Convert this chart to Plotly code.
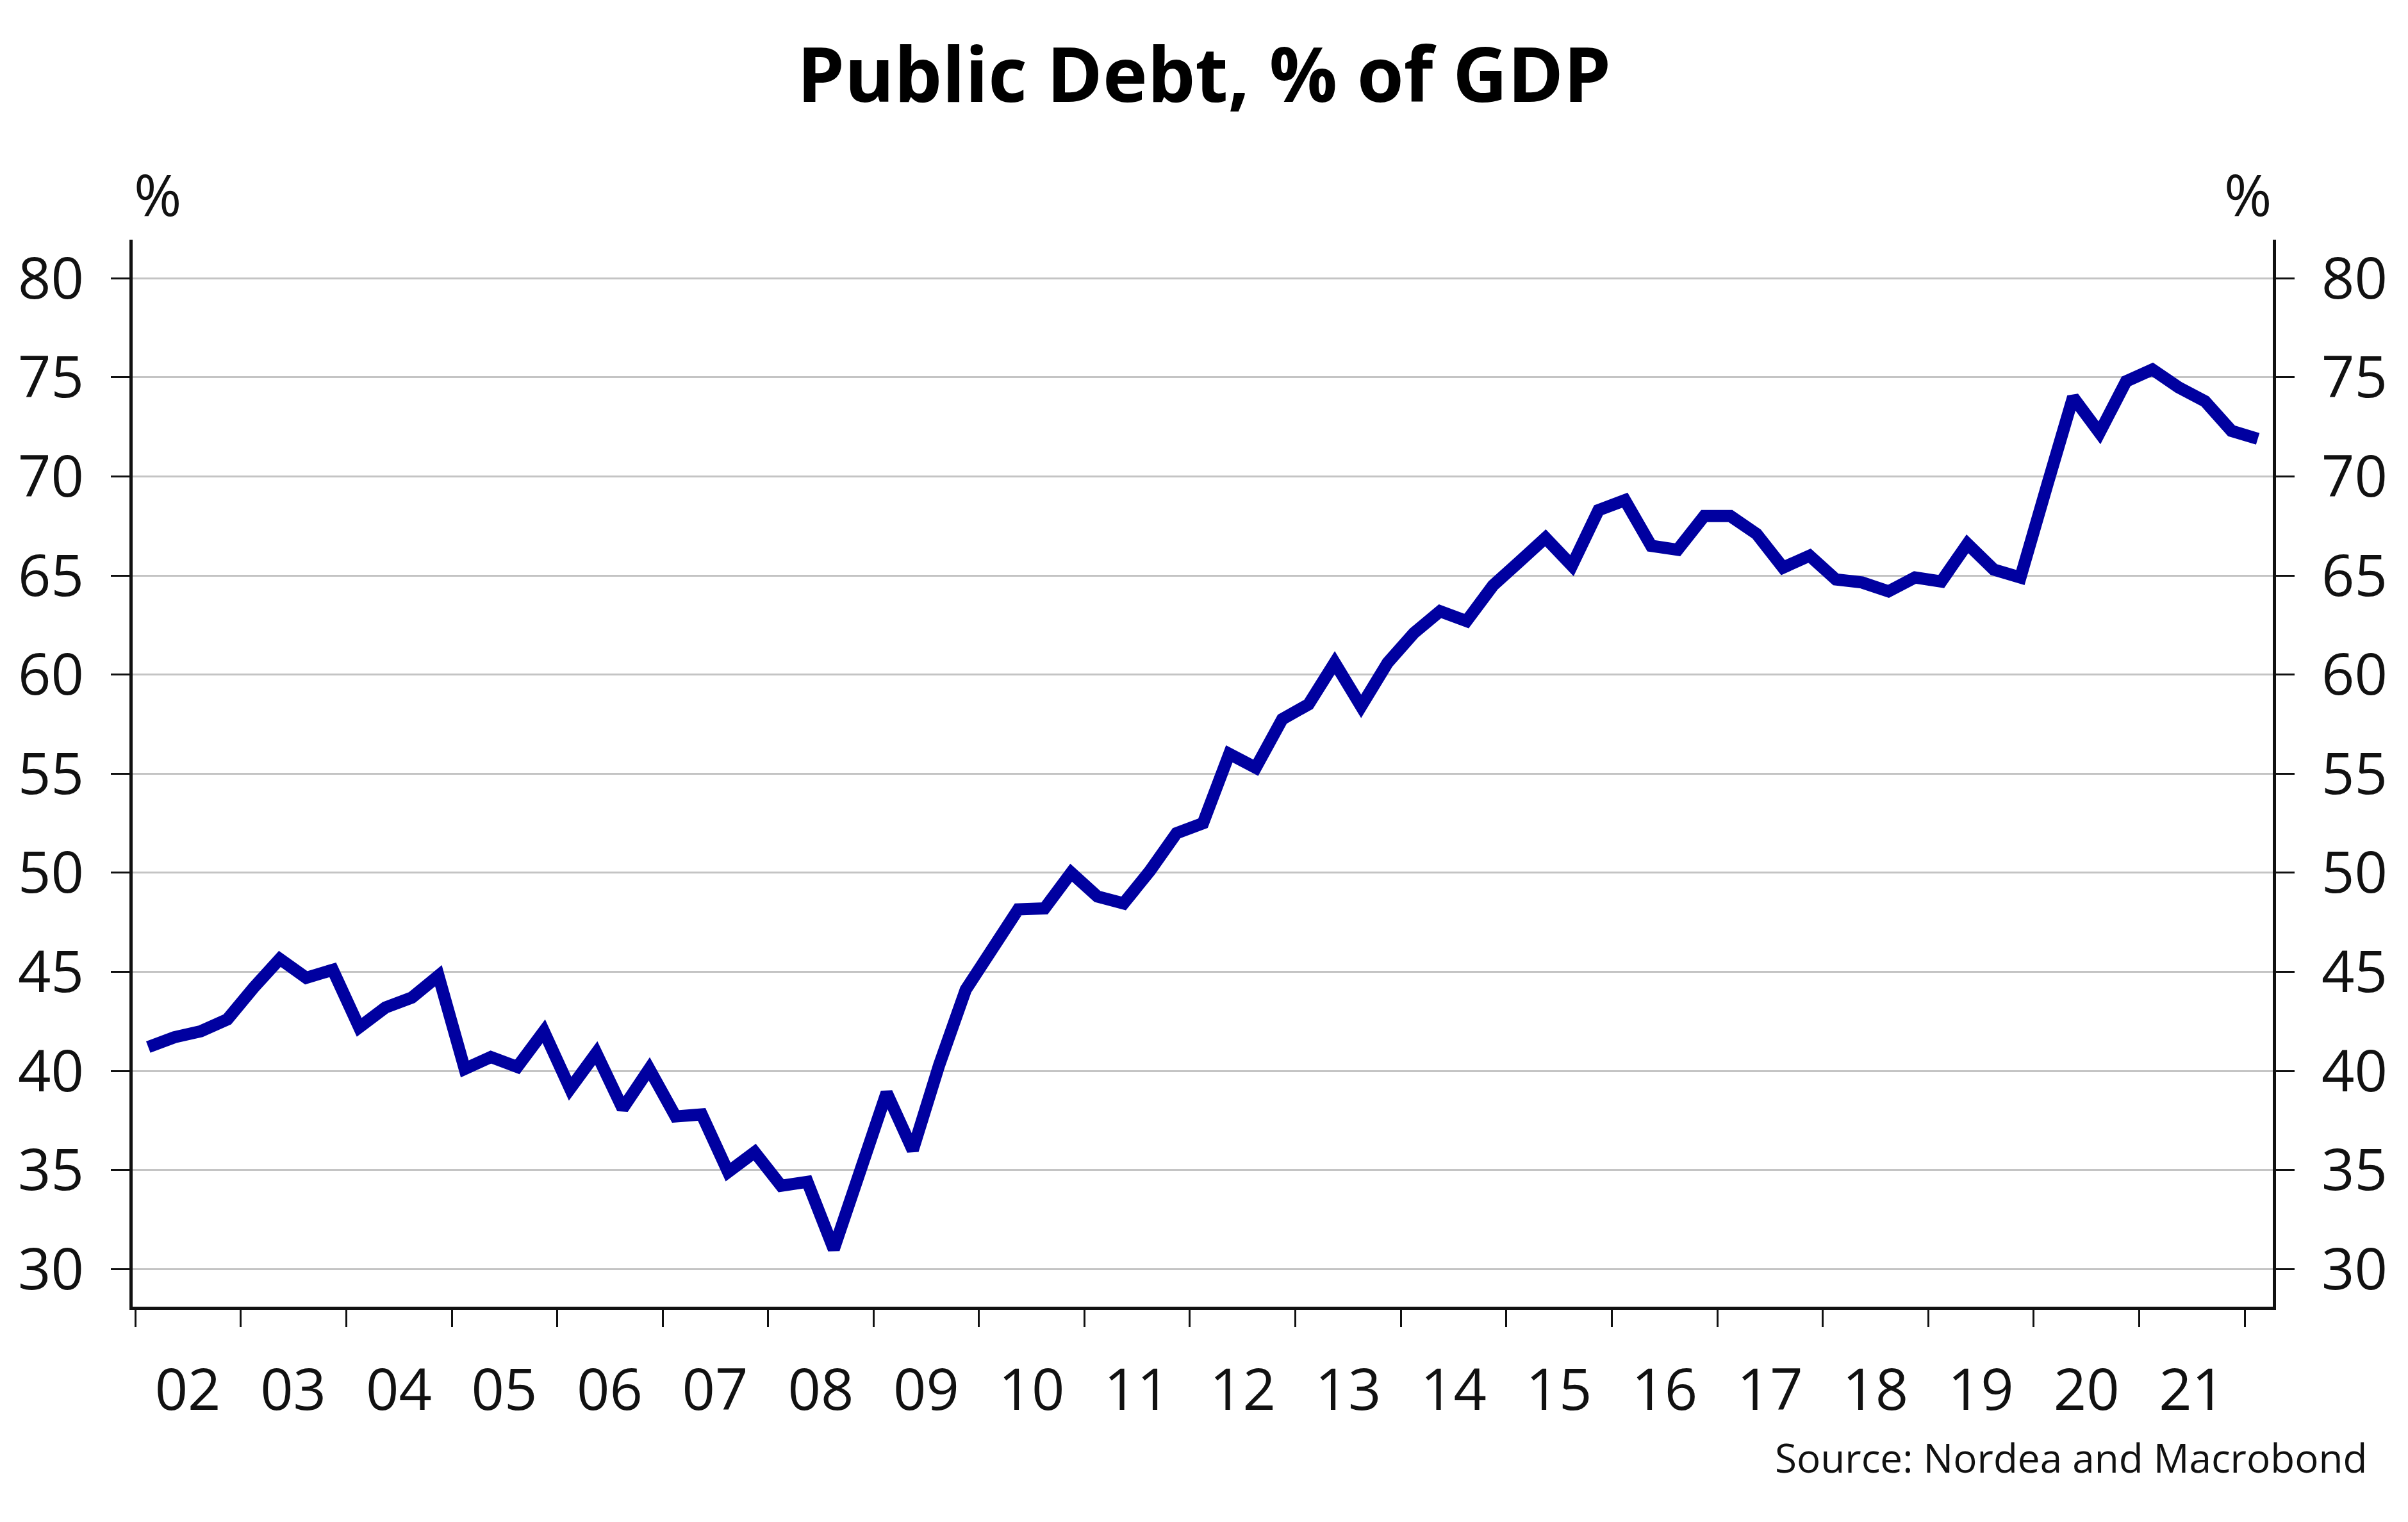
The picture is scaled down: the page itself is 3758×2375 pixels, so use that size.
import pandas as pd
import plotly.graph_objects as go

# ---- data ----
quarters = pd.period_range("2002Q1", "2022Q1", freq="Q")
debt_pct = [
    41.2, 41.7, 42.0, 42.6, 44.2, 45.65, 44.7, 45.1,
    42.2, 43.2, 43.7, 44.8, 40.1, 40.7, 40.2, 42.0,
    39.1, 40.9, 38.1, 40.1, 37.7, 37.8, 34.9, 35.9,
    34.2, 34.4, 31.0, 34.8, 38.9, 36.0, 40.3, 44.1,
    46.1, 48.15, 48.2, 50.0, 48.8, 48.45, 50.1, 52.0,
    52.5, 56.0, 55.3, 57.75, 58.5, 60.6, 58.4, 60.6,
    62.1, 63.2, 62.7, 64.5, 65.7, 66.9, 65.5, 68.3,
    68.8, 66.5, 66.3, 68.0, 68.0, 67.1, 65.4, 66.0,
    64.8, 64.65, 64.2, 64.9, 64.7, 66.6, 65.3, 64.9,
    69.5, 74.0, 72.2, 74.8, 75.4, 74.5, 73.8, 72.3,
    71.9,
]
years = list(range(2002, 2022))
year_labels = [f"{y % 100:02d}" for y in years]
y_ticks = [30, 35, 40, 45, 50, 55, 60, 65, 70, 75, 80]

title_text = "Public Debt, % of GDP"
source_text = "Source: Nordea and Macrobond"

# mid-quarter dates
x_dates = [p.start_time + (p.end_time - p.start_time) / 2 for p in quarters]

LINE_COLOR = "#0000A0"
FONT = "Open Sans"
AX_COLOR = "#111111"
TICK_SIZE = 90

fig = go.Figure()
fig.add_trace(go.Scatter(
    x=x_dates, y=debt_pct, mode="lines",
    line=dict(color=LINE_COLOR, width=19),
    showlegend=False, hoverinfo="skip",
))
# invisible copy on right axis so it renders
fig.add_trace(go.Scatter(
    x=x_dates, y=debt_pct, mode="lines", yaxis="y2",
    line=dict(color="rgba(0,0,0,0)", width=1),
    showlegend=False, hoverinfo="skip",
))

yr = [28.1, 81.95]
xr = ["2001-12-23", "2022-04-08"]

axis_common_y = dict(
    range=yr, tickvals=y_ticks, ticktext=[str(v) for v in y_ticks],
    ticks="outside", ticklen=29, tickwidth=3, tickcolor=AX_COLOR,
    showline=True, linecolor=AX_COLOR, linewidth=5,
    tickfont=dict(family=FONT, size=TICK_SIZE, color="#111111"),
    ticklabelstandoff=24, zeroline=False,
)

fig.update_layout(
    width=3758, height=2375,
    paper_bgcolor="white", plot_bgcolor="white",
    margin=dict(l=207, r=211, t=374, b=336),
    title=dict(
        text=f"<b>{title_text}</b>", x=0.5, xanchor="center",
        yref="container", y=1 - 118 / 2375, yanchor="middle",
        font=dict(family=FONT, size=118, color="black"),
    ),
    xaxis=dict(
        type="date", range=xr,
        tickvals=[f"{y}-07-02" for y in years], ticktext=year_labels,
        ticks="", ticklabelstandoff=48,
        tickfont=dict(family=FONT, size=TICK_SIZE, color="#111111"),
        showline=True, linecolor=AX_COLOR, linewidth=5,
        showgrid=False, zeroline=False,
        minor=dict(
            tickvals=[f"{y}-01-01" for y in years + [2022]],
            ticks="outside", ticklen=27, tickwidth=3, tickcolor=AX_COLOR,
            showgrid=False,
        ),
    ),
    yaxis=dict(
        **axis_common_y, side="left",
        showgrid=True, gridcolor="#C4C4C4", gridwidth=3,
    ),
    yaxis2=dict(
        **axis_common_y, side="right", overlaying="y", showgrid=False,
    ),
    annotations=[
        dict(text="%", xref="paper", yref="paper", x=0, y=1.0433,
             xanchor="left", yanchor="middle", showarrow=False,
             font=dict(family=FONT, size=TICK_SIZE, color="#111111")),
        dict(text="%", xref="paper", yref="paper", x=1, y=1.0433,
             xanchor="right", yanchor="middle", showarrow=False,
             font=dict(family=FONT, size=TICK_SIZE, color="#111111")),
        dict(text=source_text, xref="paper", yref="paper", x=1.0446,
             y=-0.1413, xanchor="right", yanchor="middle", showarrow=False,
             font=dict(family=FONT, size=62, color="#111111")),
    ],
)

fig.write_html("out.html")
